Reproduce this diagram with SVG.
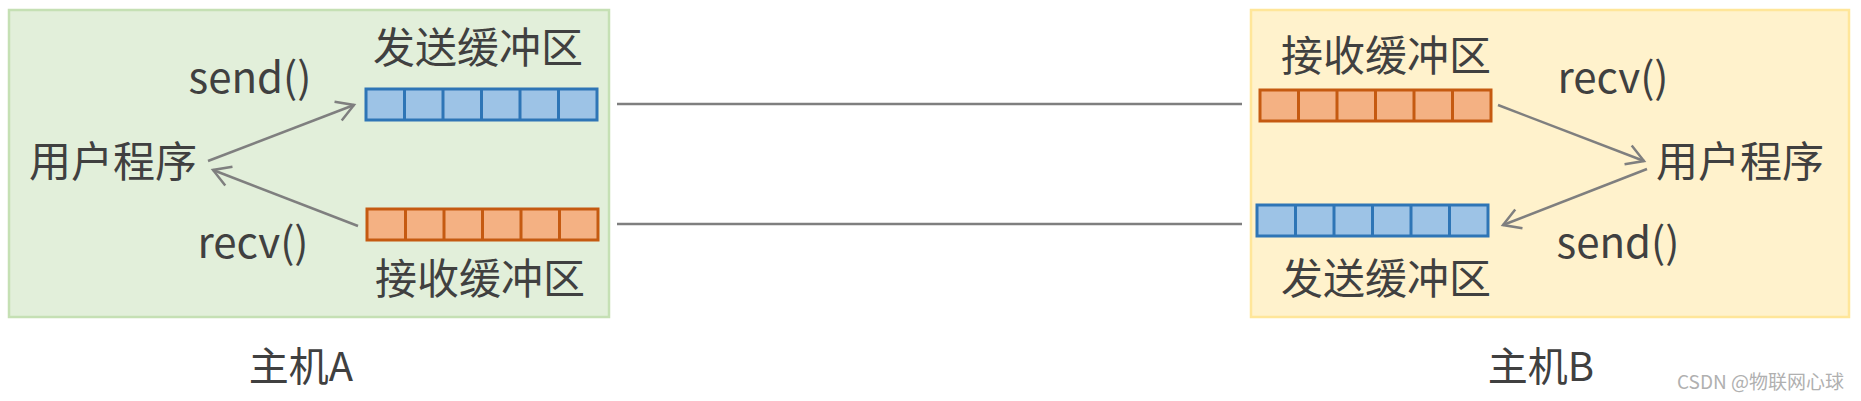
<svg xmlns="http://www.w3.org/2000/svg" width="1861" height="401" viewBox="0 0 1861 401">
<defs>
<style>
.t{font-family:"Noto Sans CJK SC","Noto Sans",sans-serif;font-size:42px;fill:#404040;text-anchor:middle}
.lbl{font-family:"Noto Sans CJK SC","Noto Sans",sans-serif;font-size:40px;fill:#404040;text-anchor:middle}
.blue rect{fill:#9dc3e6;stroke:#2e75b6;stroke-width:3}
.blue line{stroke:#2e75b6;stroke-width:3}
.orange rect{fill:#f4b183;stroke:#c55a11;stroke-width:3}
.orange line{stroke:#c55a11;stroke-width:3}
.conn{stroke:#7f7f7f;stroke-width:2.5;fill:none}
.arr{stroke:#7f7f7f;stroke-width:2.5;fill:none;marker-end:url(#ah)}
</style>
<marker id="ah" markerUnits="userSpaceOnUse" markerWidth="40" markerHeight="40" refX="20" refY="20" orient="auto" viewBox="0 0 40 40">
<path d="M3,10 L20,20 L3,30" fill="none" stroke="#7f7f7f" stroke-width="2.5"/>
</marker>
</defs>
<g id="hostA">
<rect x="9" y="10" width="600" height="307" fill="#e2efda" stroke="#c5e0b4" stroke-width="2.5"/>
</g>
<g id="hostB">
<rect x="1251" y="10" width="598" height="307" fill="#fff2cc" stroke="#ffe699" stroke-width="2.5"/>
</g>
<g id="A-sendbuf" class="blue">
<rect x="366" y="89" width="231" height="31"/>
<line x1="404.5" y1="89" x2="404.5" y2="120"/><line x1="443" y1="89" x2="443" y2="120"/><line x1="481.5" y1="89" x2="481.5" y2="120"/><line x1="520" y1="89" x2="520" y2="120"/><line x1="558.5" y1="89" x2="558.5" y2="120"/>
</g>
<g id="A-recvbuf" class="orange">
<rect x="367" y="209" width="231" height="31"/>
<line x1="405.5" y1="209" x2="405.5" y2="240"/><line x1="444" y1="209" x2="444" y2="240"/><line x1="482.5" y1="209" x2="482.5" y2="240"/><line x1="521" y1="209" x2="521" y2="240"/><line x1="559.5" y1="209" x2="559.5" y2="240"/>
</g>
<g id="B-recvbuf" class="orange">
<rect x="1260" y="90" width="231" height="31"/>
<line x1="1298.5" y1="90" x2="1298.5" y2="121"/><line x1="1337" y1="90" x2="1337" y2="121"/><line x1="1375.5" y1="90" x2="1375.5" y2="121"/><line x1="1414" y1="90" x2="1414" y2="121"/><line x1="1452.5" y1="90" x2="1452.5" y2="121"/>
</g>
<g id="B-sendbuf" class="blue">
<rect x="1257" y="205" width="231" height="31"/>
<line x1="1295.5" y1="205" x2="1295.5" y2="236"/><line x1="1334" y1="205" x2="1334" y2="236"/><line x1="1372.5" y1="205" x2="1372.5" y2="236"/><line x1="1411" y1="205" x2="1411" y2="236"/><line x1="1449.5" y1="205" x2="1449.5" y2="236"/>
</g>
<g id="A-app"><text class="t" x="113" y="177">用户程序</text></g>
<g id="B-app"><text class="t" x="1740" y="177">用户程序</text></g>
<g id="labels">
<text class="t" x="478" y="63">发送缓冲区</text>
<text class="t" x="480" y="294">接收缓冲区</text>
<text class="t" x="1386" y="71">接收缓冲区</text>
<text class="t" x="1386" y="294">发送缓冲区</text>
<text class="t" x="250" y="93">send()</text>
<text class="t" x="253" y="258">recv()</text>
<text class="t" x="1613" y="93">recv()</text>
<text class="t" x="1618" y="258">send()</text>
<text class="lbl" x="301" y="381">主机A</text>
<text class="lbl" x="1541" y="381">主机B</text>
<text x="1844" y="389" style="font-family:'Noto Sans CJK SC',sans-serif;font-size:19px;fill:#b0b0b0;text-anchor:end">CSDN @物联网心球</text>
</g>
<g id="connectors">
<line class="conn" x1="617" y1="104" x2="1242" y2="104"/>
<line class="conn" x1="617" y1="224" x2="1242" y2="224"/>
<line class="arr" x1="208" y1="161" x2="354" y2="105"/>
<line class="arr" x1="358" y1="226" x2="213" y2="170"/>
<line class="arr" x1="1498" y1="105" x2="1644" y2="161"/>
<line class="arr" x1="1647" y1="169" x2="1503" y2="225"/>
</g>
</svg>
